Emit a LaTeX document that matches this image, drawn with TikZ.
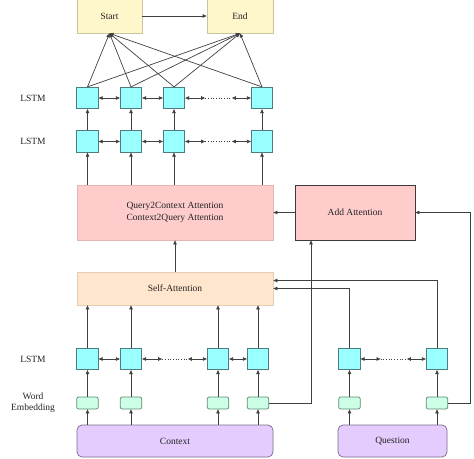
\documentclass[tikz,border=0pt]{standalone}
\usepackage{fontspec}
\setmainfont{Liberation Serif}
\usetikzlibrary{arrows.meta}
\definecolor{ylc}{HTML}{FFF7CC}
\definecolor{yld}{HTML}{C9C39E}
\definecolor{lsc}{HTML}{99FFFF}
\definecolor{lsd}{HTML}{4F7C80}
\definecolor{pkc}{HTML}{FFCCCC}
\definecolor{pkd}{HTML}{E3B5B5}
\definecolor{adc}{HTML}{FFCCCC}
\definecolor{add}{HTML}{3A3A3A}
\definecolor{sac}{HTML}{FFE6CC}
\definecolor{sad}{HTML}{E3CDB5}
\definecolor{emc}{HTML}{CCFFE6}
\definecolor{emd}{HTML}{5A8A70}
\definecolor{ctc}{HTML}{E5CCFF}
\definecolor{ctd}{HTML}{7A6A8A}
\definecolor{lnc}{HTML}{404040}
\definecolor{txc}{HTML}{222222}
\begin{document}
\begin{tikzpicture}[x=1pt,y=-1pt,
  box/.style={draw, inner sep=0pt, line width=0.7pt, text=txc, font=\fontsize{9.5}{11.5}\selectfont, align=center},
  yel/.style={box, fill=ylc, draw=yld, minimum width=65pt, minimum height=34pt},
  lstm/.style={box, fill=lsc, draw=lsd, minimum width=21.5pt, minimum height=21.5pt},
  emb/.style={box, fill=emc, draw=emd, rounded corners=2pt, minimum width=21.5pt, minimum height=12pt},
  ctx/.style={box, fill=ctc, draw=ctd, rounded corners=5pt, minimum height=32pt},
  lbl/.style={text=txc, font=\fontsize{9.5}{11}\selectfont, align=center},
  arr/.style={draw=lnc, line width=0.7pt, -{Triangle[length=4pt,width=3.5pt]}},
  biarr/.style={draw=lnc, line width=0.7pt, {Triangle[length=4pt,width=3.5pt]}-{Triangle[length=4pt,width=3.5pt]}},
  dots/.style={draw=lnc, line width=0.7pt, dotted}
]
\useasboundingbox (0,0) rectangle (474,458);
% top
\node[yel] (st) at (109.5,16) {Start};
\node[yel, minimum width=66pt] (en) at (240,16) {End};
% LSTM rows
\foreach \n/\x in {1/87.5,2/131,3/174,4/262}{
  \node[lstm] (a\n) at (\x,98) {};
  \node[lstm] (b\n) at (\x,141.5) {};
}
\node[lbl] (la) at (33,98) {LSTM};
\node[lbl] (lb) at (33,141.5) {LSTM};
\node[lbl] (lc) at (33,359) {LSTM};
\node[lbl] (lw) at (33,403) {Word\\Embedding};
% attention
\node[box, fill=pkc, draw=pkd, minimum width=196pt, minimum height=55pt] (q) at (175,212.5) {Query2Context Attention\\Context2Query Attention};
\node[box, fill=adc, draw=add, minimum width=120pt, minimum height=55pt] (ad) at (355,212.5) {Add Attention};
\node[box, fill=sac, draw=sad, minimum width=196pt, minimum height=33pt] (sa) at (175,288.5) {Self-Attention};
% bottom
\foreach \n/\x in {1/87.5,2/131,3/218,4/258}{
  \node[lstm] (c\n) at (\x,359) {};
  \node[emb] (e\n) at (\x,403) {};
}
\foreach \n/\x in {1/349.5,2/437}{
  \node[lstm] (d\n) at (\x,359) {};
  \node[emb] (f\n) at (\x,403) {};
}
\node[ctx, minimum width=196pt] (ct) at (175,441) {Context};
\node[ctx, minimum width=109pt] (qu) at (392.5,441) {Question};
% start/end
\draw[arr] (st) -- (en);
\foreach \n in {1,2,3,4}{
  \draw[arr] (a\n.north) -- (st.south);
  \draw[arr] (a\n.north) -- (en.south);
  \draw[arr] (b\n) -- (a\n);
  \draw[arr] (b\n.south |- q.north) -- (b\n.south);
}
% horizontal LSTM links, top rows
\foreach \r in {a,b}{
  \draw[biarr] (\r1) -- (\r2);
  \draw[biarr] (\r2) -- (\r3);
  \coordinate (\r p) at ([xshift=20pt]\r3.east);
  \coordinate (\r q) at ([xshift=-19pt]\r4.west);
  \draw[biarr] (\r3.east) -- (\r p);
  \draw[dots] (\r p) -- (\r q);
  \draw[biarr] (\r q) -- (\r4.west);
}
% bottom context row
\draw[biarr] (c1) -- (c2);
\coordinate (cp) at ([xshift=20pt]c2.east);
\coordinate (cq) at ([xshift=-19pt]c3.west);
\draw[biarr] (c2.east) -- (cp);
\draw[dots] (cp) -- (cq);
\draw[biarr] (cq) -- (c3.west);
\draw[biarr] (c3) -- (c4);
% question row
\coordinate (dp) at ([xshift=20pt]d1.east);
\coordinate (dq) at ([xshift=-19pt]d2.west);
\draw[biarr] (d1.east) -- (dp);
\draw[dots] (dp) -- (dq);
\draw[biarr] (dq) -- (d2.west);
% vertical bottom
\foreach \n in {1,2,3,4}{
  \draw[arr] (ct.north -| e\n) -- (e\n);
  \draw[arr] (e\n) -- (c\n);
  \draw[arr] (c\n.north) -- (c\n.north |- sa.south);
}
\foreach \n in {1,2}{
  \draw[arr] (qu.north -| f\n) -- (f\n);
  \draw[arr] (f\n) -- (d\n);
}
\draw[arr] (d1.north) |- (sa.east);
\draw[arr] (d2.north) |- ([yshift=8pt]sa.east);
\draw[arr] (sa) -- (q);
\draw[arr] (ad) -- (q);
\draw[arr] (e4.east) -| ([xshift=-44pt]ad.south);
\draw[arr] (f2.east) -- ++(22,0) |- (ad.east);
\end{tikzpicture}
\end{document}
